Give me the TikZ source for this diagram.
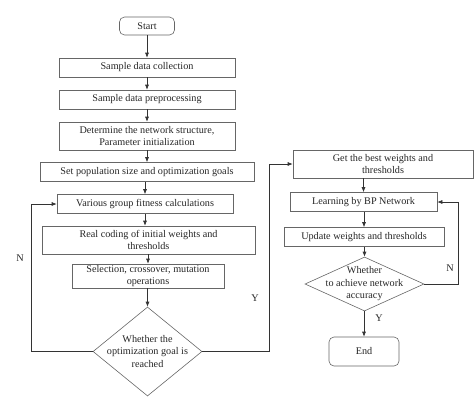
\documentclass[tikz,border=0pt]{standalone}
\usepackage{fontspec}
\setmainfont{Liberation Serif}
\usetikzlibrary{shapes.geometric,arrows.meta}
\begin{document}
\begin{tikzpicture}[x=1pt,y=-1pt,
        box/.style={draw=black!60,line width=0.6pt,minimum height=19pt,align=center,inner sep=1pt,
            text=black!85,font=\fontsize{10.2}{12.5}\selectfont},
        term/.style={box,rounded corners=5pt,minimum height=18pt},
        cond/.style={diamond,draw=black!60,line width=0.6pt,align=center,inner sep=-9pt,
            text=black!85,font=\fontsize{10.2}{12.5}\selectfont},
        arr/.style={draw=black!80,line width=0.6pt,-{Latex[length=5pt,width=4pt]}},
        lab/.style={text=black!85,font=\fontsize{10.2}{12}\selectfont}]
    \useasboundingbox (0,0) rectangle (474,413);

    % left column
    \node[term,minimum width=55pt] (start) at (147,26) {Start};
    \node[box,minimum width=176pt] (collect) at (147,67.5) {Sample data collection};
    \node[box,minimum width=176pt] (prep) at (147,99.5) {Sample data preprocessing};
    \node[box,minimum width=176pt,minimum height=28pt] (struct) at (147,136)
        {Determine the network structure,\\Parameter initialization};
    \node[box,minimum width=214pt] (pop) at (147,172) {Set population size and optimization goals};
    \node[box,minimum width=176pt] (fit) at (145,204) {Various group fitness calculations};
    \node[box,minimum width=213pt,minimum height=28pt] (coding) at (148.5,240)
        {Real coding of initial weights and\\thresholds};
    \node[box,minimum width=152pt,minimum height=24pt] (select) at (148,276)
        {Selection, crossover, mutation\\operations};
    \node[cond,minimum width=109pt,minimum height=89pt] (goal) at (147.5,351.5)
        {Whether the\\optimization goal is\\reached};

    % right column
    \node[box,minimum width=180pt,minimum height=28pt] (best) at (383,164)
        {Get the best weights and\\thresholds};
    \node[box,minimum width=147pt] (learn) at (363.5,202) {Learning by BP Network};
    \node[box,minimum width=160pt] (update) at (364,237) {Update weights and thresholds};
    \node[cond,minimum width=119pt,minimum height=54pt,aspect=2.2] (acc) at (364.5,284)
        {Whether\\to achieve network\\accuracy};
    \node[term,minimum width=70pt,minimum height=29pt] (end) at (364,351.5) {End};

    \draw[arr] (start.south) -- (start.south |- collect.north);
    \draw[arr] (collect.south) -- (collect.south |- prep.north);
    \draw[arr] (prep.south) -- (prep.south |- struct.north);
    \draw[arr] (struct.south) -- (struct.south |- pop.north);
    \draw[arr] (pop.south -| fit) -- (fit.north);
    \draw[arr] (fit.south) -- (fit.south |- coding.north);
    \draw[arr] (coding.south -| select) -- (select.north);
    \draw[arr] (select.south -| goal) -- (goal.north);
    \draw[arr] (goal.west) -- ++(-61,0) |- (fit.west);
    \draw[arr] (goal.east) -- ++(67,0) |- (best.west);
    \draw[arr] (best.south -| learn) -- (learn.north);
    \draw[arr] (learn.south -| update) -- (update.north);
    \draw[arr] (update.south -| acc) -- (acc.north);
    \draw[arr] (acc.east) -- ++(34,0) |- (learn.east);
    \draw[arr] (acc.south -| end) -- (end.north);

    \node[lab] (n1) at (20,258) {N};
    \node[lab] (y1) at (255,298) {Y};
    \node[lab] (n2) at (450,268) {N};
    \node[lab] (y2) at (379,318) {Y};
\end{tikzpicture}
\end{document}
